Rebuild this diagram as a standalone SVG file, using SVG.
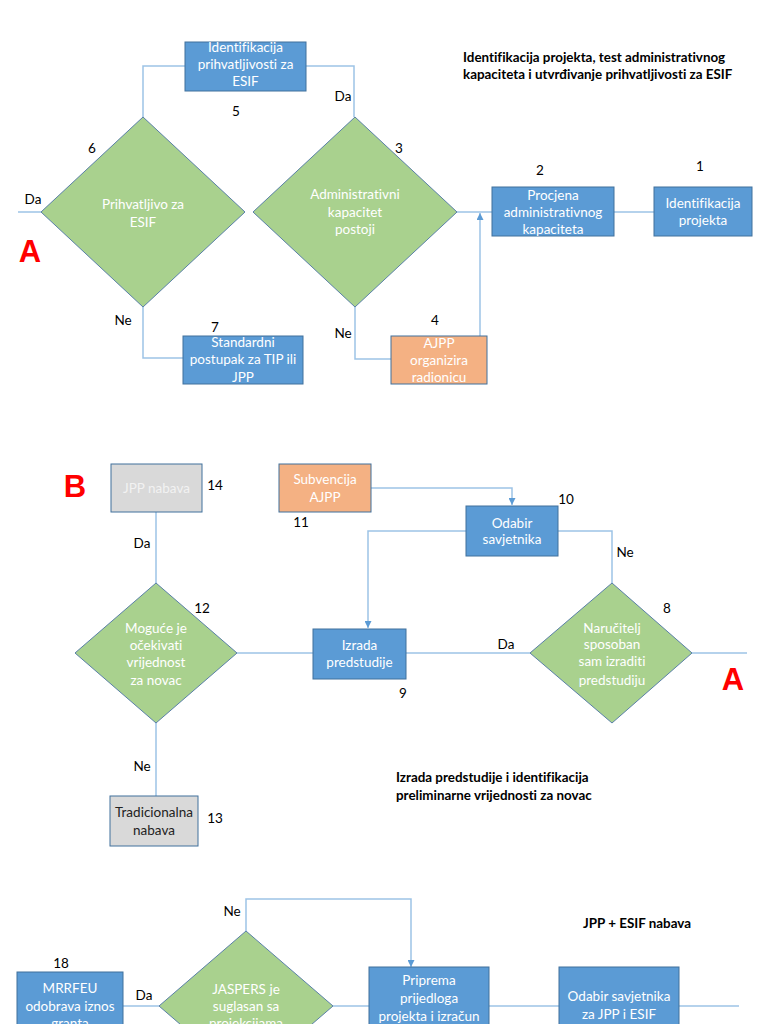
<svg xmlns="http://www.w3.org/2000/svg" width="768" height="1024" viewBox="0 0 768 1024">
<defs>
<style>
text{font-variant-ligatures:none;font-feature-settings:"liga" 0}
.box{fill:#5b9bd5;stroke:#41719c;stroke-width:1}
.org{fill:#f4b183;stroke:#41719c;stroke-width:1}
.gry{fill:#d9d9d9;stroke:#41719c;stroke-width:1}
.dia{fill:#a9d18e;stroke:#5a80a8;stroke-width:1}
.con{fill:none;stroke:#9dc3e6;stroke-width:1.5}
.wt{font-family:Lato,"Liberation Sans",sans-serif;font-size:13.5px;fill:#ffffff;text-anchor:middle}
.gt{font-family:Lato,"Liberation Sans",sans-serif;font-size:13.5px;fill:#222222;text-anchor:middle}
.lb{font-family:Lato,"Liberation Sans",sans-serif;font-size:13.5px;fill:#000000;text-anchor:middle}
.ttl{font-family:Lato,"Liberation Sans",sans-serif;font-size:13.4px;font-weight:bold;fill:#000000}
.big{font-family:"Liberation Sans",Arial,sans-serif;font-size:31px;font-weight:bold;fill:#ff0000;text-anchor:middle}
</style>
<marker id="ar" viewBox="0 0 8 8" refX="8" refY="4" markerWidth="7" markerHeight="7" markerUnits="userSpaceOnUse" orient="auto">
<path d="M0,0 L8,4 L0,8 z" fill="#5b9bd5"/>
</marker>
</defs>
<rect width="768" height="1024" fill="#ffffff"/>

<g id="connectors">
<polyline class="con" points="185,66 143,66 143,117"/>
<polyline class="con" points="306,66 354,66 354,117"/>
<line class="con" x1="18" y1="212" x2="41" y2="212"/>
<line class="con" x1="457" y1="212" x2="492" y2="212"/>
<line class="con" x1="614" y1="212" x2="654" y2="212"/>
<line class="con" x1="480" y1="336" x2="480" y2="213" marker-end="url(#ar)"/>
<polyline class="con" points="355,307 355,359 391,359"/>
<polyline class="con" points="143,307 143,358 183,358"/>
<polyline class="con" points="371,488 512,488 512,505" marker-end="url(#ar)"/>
<polyline class="con" points="466,531 368,531 368,628" marker-end="url(#ar)"/>
<polyline class="con" points="558,531 612,531 612,583"/>
<line class="con" x1="692" y1="653" x2="747" y2="653"/>
<line class="con" x1="406" y1="653" x2="530" y2="653"/>
<line class="con" x1="237" y1="653" x2="313" y2="653"/>
<line class="con" x1="156" y1="512" x2="156" y2="583"/>
<line class="con" x1="156" y1="723" x2="156" y2="796"/>
<polyline class="con" points="246,931 246,899 411,899 411,967" marker-end="url(#ar)"/>
<line class="con" x1="123" y1="1006" x2="159" y2="1006"/>
<line class="con" x1="333" y1="1006" x2="369" y2="1006"/>
<line class="con" x1="489" y1="1006" x2="559" y2="1006"/>
<line class="con" x1="679" y1="1006" x2="739" y2="1006"/>
</g>

<g id="title1">
<text class="ttl" x="463" y="62">Identifikacija projekta, test administrativnog</text>
<text class="ttl" x="463" y="79">kapaciteta i utvrđivanje prihvatljivosti za ESIF</text>
</g>

<g id="n5">
<rect class="box" x="185" y="42" width="121" height="49"/>
<text class="wt" x="245.5" y="52">Identifikacija</text>
<text class="wt" x="245.5" y="69">prihvatljivosti za</text>
<text class="wt" x="245.5" y="86">ESIF</text>
<text class="lb" x="236" y="116">5</text>
</g>

<g id="n6">
<polygon class="dia" points="143,117 245,212 143,307 41,212"/>
<text class="wt" x="143" y="209">Prihvatljivo za</text>
<text class="wt" x="143" y="227">ESIF</text>
<text class="lb" x="92" y="153">6</text>
</g>

<g id="n3">
<polygon class="dia" points="355,117 457,212 355,307 253,212"/>
<text class="wt" x="355" y="199">Administrativni</text>
<text class="wt" x="355" y="217">kapacitet</text>
<text class="wt" x="355" y="234">postoji</text>
<text class="lb" x="399" y="153">3</text>
</g>

<g id="n2">
<rect class="box" x="492" y="187" width="122" height="49"/>
<text class="wt" x="553" y="200">Procjena</text>
<text class="wt" x="553" y="217">administrativnog</text>
<text class="wt" x="553" y="234">kapaciteta</text>
<text class="lb" x="540" y="175">2</text>
</g>

<g id="n1">
<rect class="box" x="654" y="187" width="98" height="49"/>
<text class="wt" x="703" y="208">Identifikacija</text>
<text class="wt" x="703" y="225">projekta</text>
<text class="lb" x="700" y="171">1</text>
</g>

<g id="n4">
<rect class="org" x="391" y="336" width="96" height="48"/>
<text class="wt" x="439" y="348">AJPP</text>
<text class="wt" x="439" y="365">organizira</text>
<text class="wt" x="439" y="382">radionicu</text>
<text class="lb" x="435" y="325">4</text>
</g>

<g id="n7">
<rect class="box" x="183" y="336" width="120" height="48"/>
<text class="wt" x="243" y="347">Standardni</text>
<text class="wt" x="243" y="364">postupak za TIP ili</text>
<text class="wt" x="243" y="382">JPP</text>
<text class="lb" x="215" y="332">7</text>
</g>

<g id="labels-top">
<text class="lb" x="343" y="101">Da</text>
<text class="lb" x="33" y="204">Da</text>
<text class="lb" x="123" y="325">Ne</text>
<text class="lb" x="343" y="338">Ne</text>
<text class="big" x="30" y="262">A</text>
</g>

<g id="n14">
<rect class="gry" x="111" y="464" width="91" height="48"/>
<text class="wt" x="156.5" y="493" style="fill:#f2f2f2">JPP nabava</text>
<text class="lb" x="215" y="490">14</text>
</g>

<g id="n11">
<rect class="org" x="279" y="464" width="92" height="48"/>
<text class="wt" x="325" y="484">Subvencija</text>
<text class="wt" x="325" y="502">AJPP</text>
<text class="lb" x="301" y="527">11</text>
</g>

<g id="n10">
<rect class="box" x="466" y="506" width="92" height="50"/>
<text class="wt" x="512" y="528">Odabir</text>
<text class="wt" x="512" y="544">savjetnika</text>
<text class="lb" x="566" y="504">10</text>
</g>

<g id="n9">
<rect class="box" x="313" y="629" width="93" height="50"/>
<text class="wt" x="359.5" y="650">Izrada</text>
<text class="wt" x="359.5" y="667">predstudije</text>
<text class="lb" x="403" y="698">9</text>
</g>

<g id="n8">
<polygon class="dia" points="612,583 692,653 612,723 530,653"/>
<text class="wt" x="612" y="633">Naručitelj</text>
<text class="wt" x="612" y="649">sposoban</text>
<text class="wt" x="612" y="666">sam izraditi</text>
<text class="wt" x="612" y="685">predstudiju</text>
<text class="lb" x="667" y="613">8</text>
</g>

<g id="n12">
<polygon class="dia" points="156,583 237,653 156,723 75,653"/>
<text class="wt" x="156" y="633">Moguće je</text>
<text class="wt" x="156" y="650">očekivati</text>
<text class="wt" x="156" y="667">vrijednost</text>
<text class="wt" x="156" y="685">za novac</text>
<text class="lb" x="202" y="613">12</text>
</g>

<g id="n13">
<rect class="gry" x="110" y="796" width="88" height="50"/>
<text class="gt" x="154" y="817">Tradicionalna</text>
<text class="gt" x="154" y="835">nabava</text>
<text class="lb" x="215" y="823">13</text>
</g>

<g id="labels-mid">
<text class="big" x="75" y="497">B</text>
<text class="big" x="733" y="690">A</text>
<text class="lb" x="142" y="548">Da</text>
<text class="lb" x="625" y="557">Ne</text>
<text class="lb" x="506" y="649">Da</text>
<text class="lb" x="142" y="771">Ne</text>
<text class="ttl" x="396" y="782">Izrada predstudije i identifikacija</text>
<text class="ttl" x="396" y="800">preliminarne vrijednosti za novac</text>
</g>

<g id="n18">
<rect class="box" x="17" y="972" width="106" height="70"/>
<text class="wt" x="70" y="993">MRRFEU</text>
<text class="wt" x="70" y="1011">odobrava iznos</text>
<text class="wt" x="70" y="1028">granta</text>
<text class="lb" x="61" y="968">18</text>
</g>

<g id="n17">
<polygon class="dia" points="246,931 333,1006 246,1081 159,1006"/>
<text class="wt" x="246" y="994">JASPERS je</text>
<text class="wt" x="246" y="1011">suglasan sa</text>
<text class="wt" x="246" y="1028">projekcijama</text>
</g>

<g id="n16">
<rect class="box" x="369" y="967" width="120" height="75"/>
<text class="wt" x="429" y="985">Priprema</text>
<text class="wt" x="429" y="1003">prijedloga</text>
<text class="wt" x="429" y="1021">projekta i izračun</text>
</g>

<g id="n15">
<rect class="box" x="559" y="967" width="120" height="75"/>
<text class="wt" x="619" y="1001">Odabir savjetnika</text>
<text class="wt" x="619" y="1019">za JPP i ESIF</text>
</g>

<g id="labels-bottom">
<text class="lb" x="232" y="916">Ne</text>
<text class="lb" x="144" y="1000">Da</text>
<text class="ttl" x="637" y="928" text-anchor="middle">JPP + ESIF nabava</text>
</g>
</svg>
